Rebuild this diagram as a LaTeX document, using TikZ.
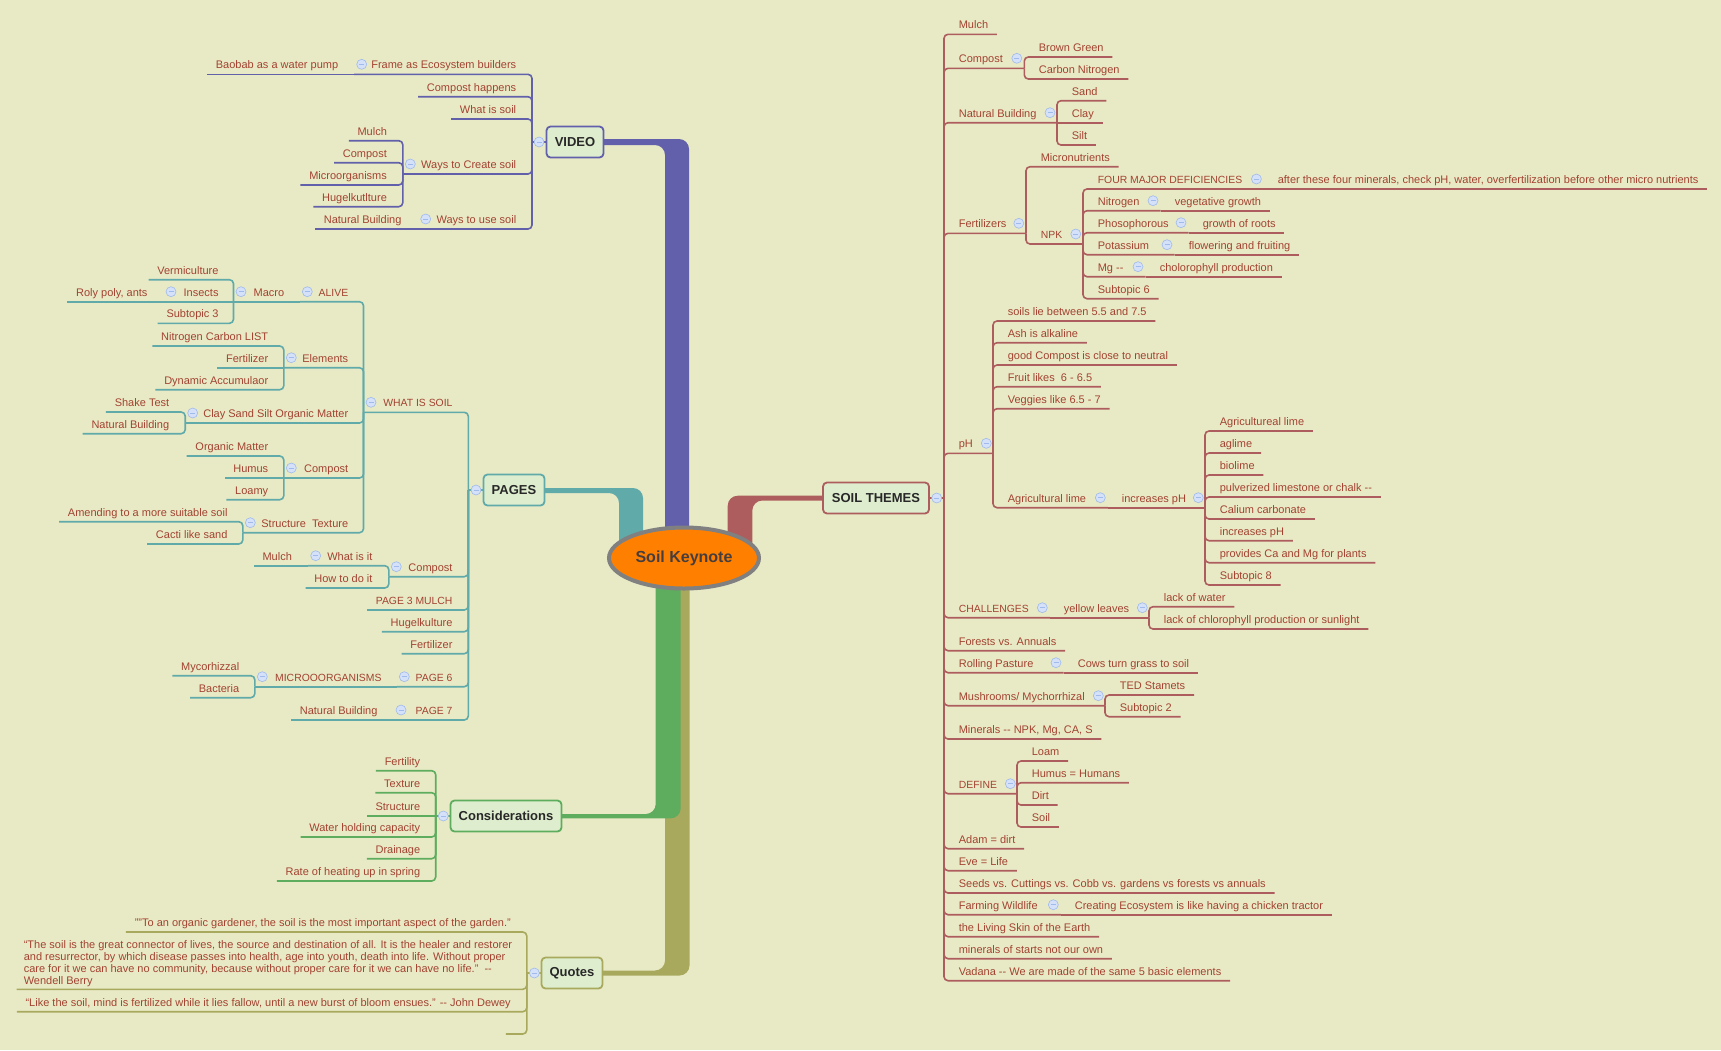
\documentclass[tikz,border=0pt]{standalone}
\usepackage{fontspec}
\setmainfont{Liberation Sans}
\usetikzlibrary{calc}
\usetikzlibrary{shapes.geometric}

\definecolor{paper}{RGB}{232,234,198}
\definecolor{ink}{RGB}{163,66,48}
\definecolor{dark}{RGB}{40,40,40}
\definecolor{cPurple}{RGB}{98,96,170}
\definecolor{cTeal}{RGB}{96,170,170}
\definecolor{cRed}{RGB}{173,93,93}
\definecolor{cGreen}{RGB}{94,172,94}
\definecolor{cOlive}{RGB}{169,169,94}
\definecolor{boxfill}{RGB}{221,237,206}
\definecolor{foldfill}{RGB}{212,225,248}
\definecolor{foldline}{RGB}{160,186,235}
\definecolor{cOrange}{RGB}{255,128,0}
\definecolor{rim}{RGB}{128,128,128}
\definecolor{roottext}{RGB}{70,62,62}

\pgfdeclarelayer{bg}
\pgfsetlayers{bg,main}

\tikzset{
  topic/.style={font=\fontsize{11}{13}\selectfont, text=ink, inner sep=0pt},
  quote/.style={font=\fontsize{11}{12}\selectfont, text=ink, inner sep=0pt},
  fold/.style={circle, draw=foldline, fill=foldfill, line width=0.6pt, minimum size=10pt, inner sep=0pt,
    path picture={\draw[foldline, line width=0.7pt] ([xshift=-2.5pt]path picture bounding box.center) -- ([xshift=2.5pt]path picture bounding box.center);}},
  mainbox/.style={draw=#1, fill=boxfill, rounded corners=4pt, line width=1.8pt, text=dark,
    font=\bfseries\fontsize{13}{15}\selectfont, minimum height=31pt, inner sep=0pt},
  root/.style={ellipse, draw=rim, line width=4pt, fill=cOrange, minimum width=150pt, minimum height=61pt,
    inner sep=0pt, text=roottext, font=\bfseries\fontsize{16}{18}\selectfont},
  branch/.style={color=#1, line width=1.6pt, rounded corners=4pt}
}

% capitals run a little narrower in the original
\newcommand{\caps}[1]{{\fontsize{10.4}{13}\selectfont #1}}

% leaf topics: name, from, text x, line y, text
\newcommand{\leafR}[5]{%
  \node[topic, anchor=base west] (#1) at (#3,#4-5.5) {#5};
  \draw (#2) |- ([xshift=8pt,yshift=-5.5pt]#1.base east);}
\newcommand{\nextR}[5]{%
  \node[topic, anchor=base west] (#1) at (#3,#4-5.5) {#5};
  \draw (#2) -- ([xshift=8pt,yshift=-5.5pt]#1.base east);}
\newcommand{\leafL}[6][topic]{%
  \node[#1, anchor=base east] (#2) at (#4,#5-5.5) {#6};
  \draw (#3) |- ([xshift=-8pt,yshift=-5.5pt]#2.base west);}
\newcommand{\nextL}[5]{%
  \node[topic, anchor=base east] (#1) at (#3,#4-5.5) {#5};
  \draw (#2) -- ([xshift=-8pt,yshift=-5.5pt]#1.base west);}
% topics with children: [path op] name, from, text x, line y, text, fold x, joint x
\newcommand{\hubR}[8][|-]{%
  \node[topic, anchor=base west] (#2) at (#4,#5-5.5) {#6};
  \node[fold] (#2-f) at (#7,#5-10) {};
  \coordinate (#2-j) at (#8,#5);
  \draw (#3) #1 (#2-j);}
\newcommand{\hubL}[8][|-]{%
  \node[topic, anchor=base east] (#2) at (#4,#5-5.5) {#6};
  \node[fold] (#2-f) at (#7,#5-10) {};
  \coordinate (#2-j) at (#8,#5);
  \draw (#3) #1 (#2-j);}

\begin{document}
\begin{tikzpicture}[x=1pt, y=-1pt]
  \useasboundingbox (0,0) rectangle (1721,1050);
  \begin{pgfonlayer}{bg}
    \fill[paper] (0,0) rectangle (1721,1050);
  \end{pgfonlayer}

  \node[root] (root) at (684,558) {Soil Keynote};
  \node[mainbox=cPurple, minimum width=57pt] (video) at (575,142) {VIDEO};
  \node[mainbox=cTeal, minimum width=61pt] (pages) at (514,490) {PAGES};
  \node[mainbox=cRed, minimum width=106pt] (themes) at (876,498) {SOIL THEMES};
  \node[mainbox=cGreen, minimum width=111pt] (cons) at (506,816) {Considerations};
  \node[mainbox=cOlive, minimum width=61pt] (quotes) at (572,973) {Quotes};

  % thick branches from the centre
  \begin{pgfonlayer}{bg}
    \fill[cPurple, rounded corners=10pt] ([yshift=3pt]video.center) -- (689,139) -- (689,545) -- (665,545) -- (665,145) -- ([yshift=-3pt]video.center) -- cycle;
    \fill[cTeal, rounded corners=10pt] ([yshift=2pt]pages.center) -- (643,488) -- (643,555) -- (619,555) -- (619,493) -- ([yshift=-3pt]pages.center) -- cycle;
    \fill[cRed, rounded corners=10pt] ([yshift=2.3pt]themes.center) -- (727.7,495.7) -- (727.7,560) -- (752.3,560) -- (752.3,500.5) -- ([yshift=-2.5pt]themes.center) -- cycle;
    \fill[cOlive, rounded corners=10pt] ([yshift=2.5pt]quotes.center) -- (665,970.5) -- (665,570) -- (689.5,570) -- (689.5,975.5) -- ([yshift=-2.5pt]quotes.center) -- cycle;
    \fill[cGreen, rounded corners=10pt] ([yshift=2pt]cons.center) -- (655.7,814) -- (655.7,570) -- (680.7,570) -- (680.7,818.3) -- ([yshift=-2.3pt]cons.center) -- cycle;
  \end{pgfonlayer}

  % SOIL THEMES
  \begin{scope}[branch=cRed]
    \coordinate (jr) at (944,498);
    \draw (themes.east) -- (jr);
    \node[fold] (themes-f) at (936.7,498) {};
    \leafR{t-mulch}{jr}{958}{34.3}{Mulch}
    \hubR{t-compost}{jr}{958}{68.3}{Compost}{1016.8}{1024.3}
    \leafR{t-brown}{t-compost-j}{1038}{57}{Brown Green}
    \leafR{t-carbon}{t-compost-j}{1038}{79}{Carbon Nitrogen}
    \hubR{t-build}{jr}{958}{122.7}{Natural Building}{1050}{1057}
    \leafR{t-sand}{t-build-j}{1071}{100.7}{Sand}
    \nextR{t-clay}{t-build-j}{1071}{122.7}{Clay}
    \leafR{t-silt}{t-build-j}{1071}{145}{Silt}
    \hubR{t-fert}{jr}{958}{233.3}{Fertilizers}{1018.8}{1026}
    \leafR{t-micro}{t-fert-j}{1040}{166.7}{Micronutrients}
    \hubR{t-npk}{t-fert-j}{1040}{244}{\caps{NPK}}{1075.8}{1083}
    \hubR{t-four}{t-npk-j}{1097}{189}{\caps{FOUR MAJOR DEFICIENCIES}}{1256.4}{1264}
    \nextR{t-after}{t-four-j}{1277}{189}{after these four minerals, check pH, water, overfertilization before other micro nutrients}
    \foreach \y/\txt/\fx/\sub [count=\i] in {210.7/Nitrogen/1153/vegetative growth,
        232.7/Phosophorous/1181/growth of roots, 254.7/Potassium/1167/flowering and fruiting,
        276.7/Mg -{}-/1138/cholorophyll production}
    {
      \hubR{t-el\i}{t-npk-j}{1097}{\y}{\txt}{\fx}{\fx+7.5}
      \nextR{t-use\i}{t-el\i-j}{\fx+21}{\y}{\sub}
    }
    \leafR{t-sub6}{t-npk-j}{1097}{298.7}{Subtopic 6}
    \hubR{t-ph}{jr}{958}{453.3}{pH}{986.3}{993}
    \foreach \y/\txt [count=\i] in {321/soils lie between 5.5 and 7.5, 342.7/Ash is alkaline,
        365/good Compost is close to neutral, 386.7/Fruit likes \ 6 - 6.5, 408.7/Veggies like 6.5 - 7}
      {\leafR{t-ph\i}{t-ph-j}{1007}{\y}{\txt}}
    \hubR{t-lime}{t-ph-j}{1007}{507.7}{Agricultural lime}{1100.3}{1107.8}
    \hubR[--]{t-raise}{t-lime-j}{1121}{507.7}{increases pH}{1198.3}{1205}
    \foreach \y/\txt [count=\i] in {431/Agricultureal lime, 453/aglime, 475/biolime,
        497/pulverized limestone or chalk -{}-, 519/Calium carbonate, 540.7/increases pH,
        562.7/provides Ca and Mg for plants, 585/Subtopic 8}
      {\leafR{t-lime\i}{t-raise-j}{1219}{\y}{\txt}}
    \hubR{t-chall}{jr}{958}{617.7}{\caps{CHALLENGES}}{1042.3}{1049.8}
    \hubR[--]{t-yellow}{t-chall-j}{1063}{617.7}{yellow leaves}{1142.3}{1149}
    \leafR{t-water}{t-yellow-j}{1163}{606.7}{lack of water}
    \leafR{t-sun}{t-yellow-j}{1163}{629}{lack of chlorophyll production or sunlight}
    \leafR{t-forest}{jr}{958}{650.7}{Forests vs. Annuals}
    \hubR{t-pasture}{jr}{958}{672.7}{Rolling Pasture}{1056}{1063.5}
    \nextR{t-cows}{t-pasture-j}{1077}{672.7}{Cows turn grass to soil}
    \hubR{t-mush}{jr}{958}{705.7}{Mushrooms/ Mychorrhizal}{1098.3}{1105}
    \leafR{t-ted}{t-mush-j}{1119}{695}{TED Stamets}
    \leafR{t-sub2}{t-mush-j}{1119}{716.7}{Subtopic 2}
    \leafR{t-minerals}{jr}{958}{739}{Minerals -{}- NPK, Mg, CA, S}
    \hubR{t-define}{jr}{958}{793.7}{\caps{DEFINE}}{1010.3}{1017}
    \foreach \y/\txt [count=\i] in {761/Loam, 782.7/Humus = Humans, 805/Dirt, 827/Soil}
      {\leafR{t-def\i}{t-define-j}{1031}{\y}{\txt}}
    \foreach \y/\txt [count=\i] in {848.7/Adam = dirt, 870.7/Eve = Life,
        893/Seeds vs. Cuttings vs. Cobb vs. gardens vs forests vs annuals}
      {\leafR{t-misc\i}{jr}{958}{\y}{\txt}}
    \hubR{t-farm}{jr}{958}{914.7}{Farming Wildlife}{1053.3}{1060.8}
    \nextR{t-eco}{t-farm-j}{1074}{914.7}{Creating Ecosystem is like having a chicken tractor}
    \foreach \y/\txt [count=\i] in {936.7/the Living Skin of the Earth, 958.7/minerals of starts not our own,
        980.7/Vadana -{}- We are made of the same 5 basic elements}
      {\leafR{t-last\i}{jr}{958}{\y}{\txt}}
  \end{scope}

  % VIDEO
  \begin{scope}[branch=cPurple]
    \coordinate (jv) at (532,142);
    \draw (video.west) -- (jv);
    \node[fold] (video-f) at (539,142) {};
    \hubL{v-frame}{jv}{517}{74.3}{Frame as Ecosystem builders}{361.7}{354.2}
    \nextL{v-baobab}{v-frame-j}{339}{74.3}{Baobab as a water pump}
    \leafL{v-happens}{jv}{517}{96.7}{Compost happens}
    \leafL{v-soil}{jv}{517}{119}{What is soil}
    \hubL{v-create}{jv}{517}{174}{Ways to Create soil}{410.3}{402.8}
    \foreach \y/\txt [count=\i] in {140.7/Mulch, 162.7/Compost, 185/Microorganisms, 206.7/Hugelkutlture}
      {\leafL{v-way\i}{v-create-j}{387.7}{\y}{\txt}}
    \hubL{v-use}{jv}{517}{229}{Ways to use soil}{425.7}{418.2}
    \nextL{v-build}{v-use-j}{402.3}{229}{Natural Building}
  \end{scope}

  % PAGES
  \begin{scope}[branch=cTeal]
    \coordinate (jp) at (468.3,490);
    \draw (pages.west) -- (jp);
    \node[fold] (pages-f) at (476,490) {};
    \hubL{p-what}{jp}{453.3}{412.3}{\caps{WHAT IS SOIL}}{371}{363.5}
    \hubL{p-alive}{p-what-j}{349}{301.7}{\caps{ALIVE}}{307.3}{299.8}
    \hubL[--]{p-macro}{p-alive-j}{285}{301.7}{Macro}{241}{233.5}
    \leafL{p-vermi}{p-macro-j}{219.3}{279.7}{Vermiculture}
    \hubL[--]{p-insects}{p-macro-j}{219.3}{301.7}{Insects}{171}{163.5}
    \nextL{p-roly}{p-insects-j}{148.3}{301.7}{Roly poly, ants}
    \leafL{p-sub3}{p-macro-j}{219.3}{323.3}{Subtopic 3}
    \hubL{p-elem}{p-what-j}{349}{367.7}{Elements}{291.3}{283.8}
    \leafL{p-list}{p-elem-j}{269}{346}{Nitrogen Carbon LIST}
    \nextL{p-fert}{p-elem-j}{269}{367.7}{Fertilizer}
    \leafL{p-dyn}{p-elem-j}{269}{389.7}{Dynamic Accumulaor}
    \hubL{p-clay}{p-what-j}{349}{423}{Clay Sand Silt Organic Matter}{192.7}{185.2}
    \leafL{p-shake}{p-clay-j}{170}{412}{Shake Test}
    \leafL{p-build}{p-clay-j}{170}{433.7}{Natural Building}
    \hubL{p-comp}{p-what-j}{349}{478}{Compost}{291.3}{283.8}
    \leafL{p-organic}{p-comp-j}{269}{456}{Organic Matter}
    \nextL{p-humus}{p-comp-j}{269}{478}{Humus}
    \leafL{p-loamy}{p-comp-j}{269}{499.7}{Loamy}
    \hubL{p-struct}{p-what-j}{349}{532.7}{Structure \ Texture}{250.3}{242.8}
    \leafL{p-amend}{p-struct-j}{228.3}{521.7}{Amending to a more suitable soil}
    \leafL{p-cacti}{p-struct-j}{228.3}{544}{Cacti like sand}
    \hubL{p-comp2}{jp}{453.3}{576.7}{Compost}{396.3}{388.8}
    \hubL{p-whatis}{p-comp2-j}{373.3}{565.7}{What is it}{315.7}{308.2}
    \nextL{p-mulch}{p-whatis-j}{292.7}{565.7}{Mulch}
    \leafL{p-howto}{p-comp2-j}{373.3}{588}{How to do it}
    \foreach \y/\txt [count=\i] in {610/\caps{PAGE 3 MULCH}, 631.7/Hugelkulture, 653.7/Fertilizer}
      {\leafL{p-pg\i}{jp}{453.3}{\y}{\txt}}
    \hubL{p-page6}{jp}{453.3}{686.7}{\caps{PAGE 6}}{404.3}{396.8}
    \hubL[--]{p-microbes}{p-page6-j}{382.3}{686.7}{\caps{MICROOORGANISMS}}{262.3}{254.8}
    \leafL{p-myco}{p-microbes-j}{240}{675.7}{Mycorhizzal}
    \leafL{p-bact}{p-microbes-j}{240}{697.7}{Bacteria}
    \hubL{p-page7}{jp}{453.3}{720}{\caps{PAGE 7}}{401}{393.5}
    \nextL{p-build2}{p-page7-j}{378.3}{720}{Natural Building}
  \end{scope}

  % Considerations
  \begin{scope}[branch=cGreen]
    \coordinate (jc) at (435.7,816);
    \draw (cons.west) -- (jc);
    \node[fold] (cons-f) at (443.3,816) {};
    \foreach \y/\txt [count=\i] in {770.7/Fertility, 792.7/Texture, 837/Water holding capacity,
        858.7/Drainage, 881/Rate of heating up in spring}
      {\leafL{c-\i}{jc}{421}{\y}{\txt}}
    \nextL{c-struct}{jc}{421}{816}{Structure}
  \end{scope}

  % Quotes
  \begin{scope}[branch=cOlive]
    \coordinate (jq) at (526.8,973);
    \draw (quotes.west) -- (jq);
    \node[fold] (quotes-f) at (534.4,973) {};
    \leafL[quote]{q-one}{jq}{511.6}{932}{""To an organic gardener, the soil is the most important aspect of the garden."}
    \node[quote, anchor=north west, align=left] (q-two) at (23,939.5)
      {“The soil is the great connector of lives, the source and destination of all. It is the healer and restorer\\
       and resurrector, by which disease passes into health, age into youth, death into life. Without proper\\
       care for it we can have no community, because without proper care for it we can have no life.”\ \ -{}-\\
       Wendell Berry};
    \coordinate (q-two-e) at (16.5,989.3);
    \draw (jq) |- (q-two-e);
    \leafL[quote]{q-three}{jq}{511.6}{1011.7}{“Like the soil, mind is fertilized while it lies fallow, until a new burst of bloom ensues.” -{}- John Dewey}
    \coordinate (q-four) at (505.8,1034);
    \draw (jq) |- (q-four);
  \end{scope}
\end{tikzpicture}
\end{document}
